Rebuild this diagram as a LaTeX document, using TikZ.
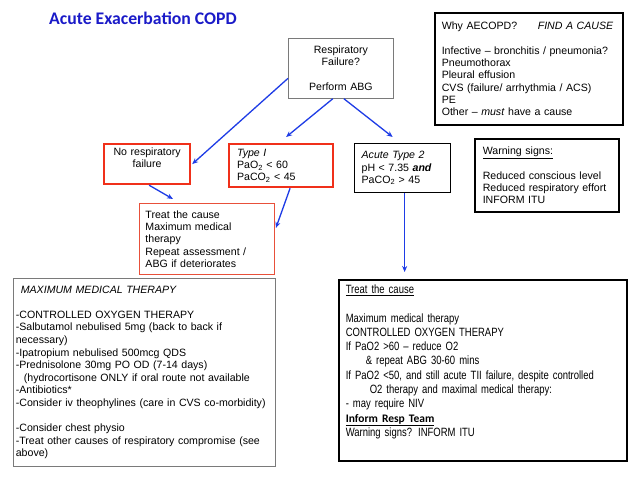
\documentclass[tikz,border=0pt]{standalone}
\usepackage{fontspec}
\setmainfont{Liberation Sans}[WordSpace=0.85]
\newfontfamily\titlefont{Carlito}
\newfontfamily\narrowfont{Liberation Sans}[FakeStretch=0.79,WordSpace=0.4]
\usetikzlibrary{arrows.meta,calc}
\definecolor{titlec}{HTML}{1A1AC8}
\definecolor{arrowc}{HTML}{1E3CE6}
\definecolor{alertc}{HTML}{F0301A}
\definecolor{softc}{HTML}{E8503A}
\definecolor{framec}{HTML}{7A7A7A}
\tikzset{
  txt/.style={font=\fontsize{10.6}{12.3}\selectfont, inner sep=0pt, anchor=north west},
  plainbox/.style={txt, draw=framec, line width=0.7pt},
  heavybox/.style={txt, draw=black, line width=1.6pt},
  alertbox/.style={txt, draw=alertc, line width=2.2pt},
  softbox/.style={txt, draw=softc, line width=0.9pt},
  flow/.style={draw=arrowc, line width=1.3pt, -{Stealth[length=6pt,width=5pt]}},
}

\begin{document}
\begin{tikzpicture}[x=1pt,y=-1pt]
\path[fill=white] (0,0) rectangle (638,478);
\node[font=\titlefont\bfseries\fontsize{17.7}{20}\selectfont, text=titlec, anchor=west, inner sep=0pt] (title) at (49,18) {Acute Exacerbation COPD};
\node[plainbox, text width=105pt, minimum height=60pt, align=center] (resp) at (288,38) {Respiratory\\Failure?\\[12.3pt]Perform ABG};
\node[heavybox, inner xsep=7pt, text width=174pt, minimum height=112pt, align=left] (why) at (434,12) {\makebox[96pt][l]{Why AECOPD?}\textit{FIND A CAUSE}\\[12.3pt]
Infective – bronchitis / pneumonia?\\
Pneumothorax\\
Pleural effusion\\
CVS (failure/ arrhythmia / ACS)\\
PE\\
Other – \textit{must} have a cause};
\node[alertbox, text width=86pt, minimum height=40pt, align=center] (nofail) at (103,143) {No respiratory\\failure\\~};
\node[alertbox, inner xsep=8pt, text width=88pt, minimum height=43pt, align=left] (typeone) at (228,143) {\textit{Type I}\\PaO\textsubscript{2} < 60\\PaCO\textsubscript{2} < 45};
\node[heavybox, line width=1.3pt, inner xsep=7pt, text width=82pt, minimum height=49pt, align=left] (typetwo) at (354,143) {\textit{Acute Type 2}\\pH < 7.35 \textbf{\textit{and}}\\PaCO\textsubscript{2} > 45};
\node[heavybox, inner xsep=8pt, text width=128pt, minimum height=73pt, align=left] (warn) at (474,138) {\underline{Warning signs:}\\[12.3pt]
Reduced conscious level\\
Reduced respiratory effort\\
INFORM ITU};
\node[softbox, inner xsep=6pt, text width=123pt, minimum height=71pt, align=left] (treat) at (139,203) {Treat the cause\\
Maximum medical\\
therapy\\
Repeat assessment /\\
ABG if deteriorates};
\node[plainbox, font=\fontsize{10.6}{12.6}\selectfont, inner xsep=2.5pt, text width=257pt, minimum height=188pt, align=left] (maxtherapy) at (13,278) {\hspace*{5pt}\textit{MAXIMUM MEDICAL THERAPY}\\[12.6pt]
-CONTROLLED OXYGEN THERAPY\\
-Salbutamol nebulised 5mg (back to back if\\
necessary)\\
-Ipatropium nebulised 500mcg QDS\\
-Prednisolone 30mg PO OD (7-14 days)\\
\hspace*{8pt}(hydrocortisone ONLY if oral route not available\\
-Antibiotics*\\
-Consider iv theophylines (care in CVS co-morbidity)\\[12.6pt]
-Consider chest physio\\
-Treat other causes of respiratory compromise (see\\
above)};
\node[heavybox, font=\narrowfont\fontsize{12}{14.3}\selectfont, inner xsep=7pt, text width=274pt, minimum height=181pt, align=left] (care) at (338,279) {\underline{Treat the cause}\\[14.3pt]
Maximum medical therapy\\
CONTROLLED OXYGEN THERAPY\\
If PaO2 >60 – reduce O2\\
\hspace*{20pt}\& repeat ABG 30-60 mins\\
If PaO2 <50, and still acute TII failure, despite controlled\\
\hspace*{24pt}O2 therapy and maximal medical therapy:\\
- may require NIV\\
{\titlefont\bfseries\fontsize{11.5}{14.3}\selectfont\underline{Inform Resp Team}}\\
Warning signs? INFORM ITU\\[5pt]~};
\draw[flow] ([yshift=-10pt]resp.west) -- ([xshift=1pt]nofail.east);
\draw[flow] ([xshift=-8pt]resp.south) -- ([xshift=5pt,yshift=6pt]typeone.north);
\draw[flow] ([xshift=3pt]resp.south) -- ([xshift=-10pt,yshift=6pt]typetwo.north);
\draw[flow] ([xshift=2pt]nofail.south) -- ([xshift=-34pt,yshift=4pt]treat.north);
\draw[flow] ([xshift=9pt]typeone.south) -- ([xshift=1pt,yshift=11pt]treat.east);
\draw[flow, shorten >=7pt] ([xshift=2pt]typetwo.south) -- ([xshift=2pt]typetwo.south |- care.north);
\end{tikzpicture}
\end{document}
